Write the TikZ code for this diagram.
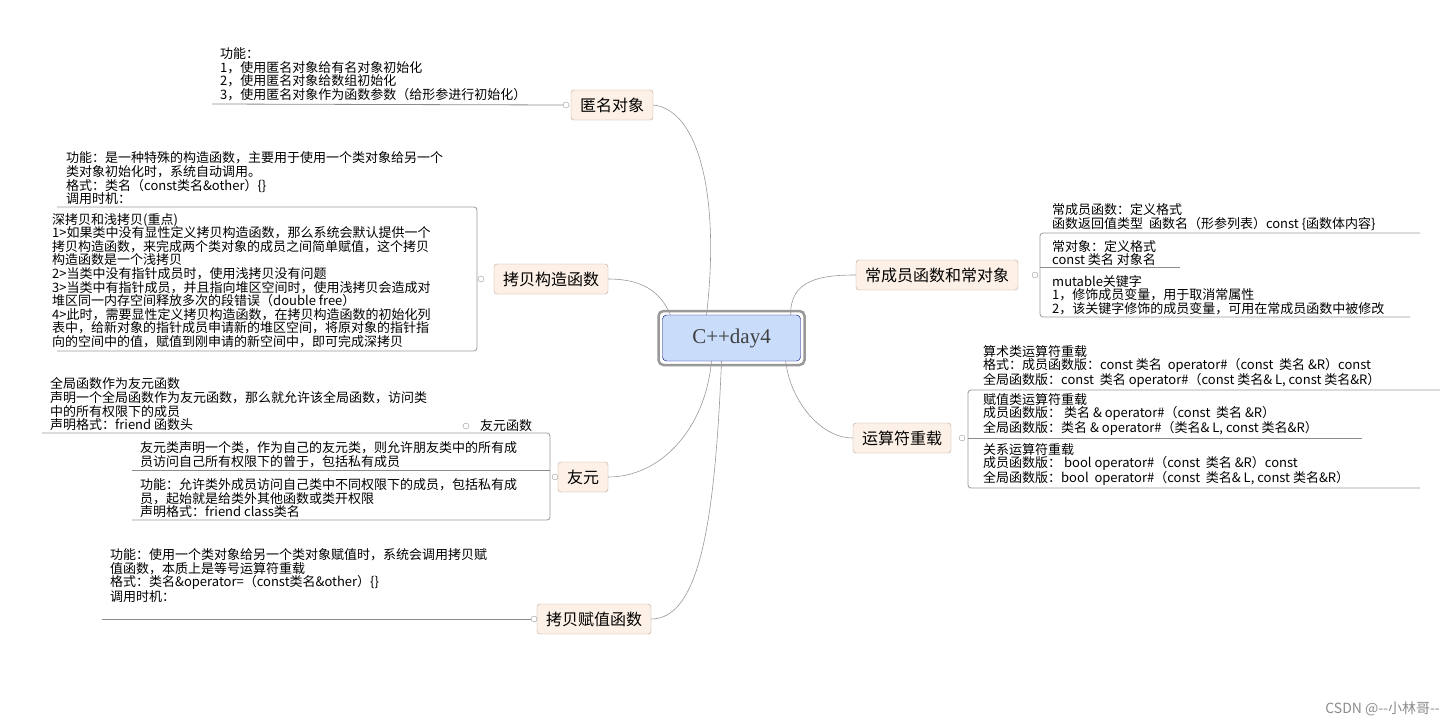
\documentclass[tikz,border=0pt]{standalone}
\usepackage{fontspec}
\setmainfont{Noto Sans CJK SC}
\newfontfamily\titlefont{Liberation Serif}
\definecolor{cfill}{RGB}{201,221,251}
\definecolor{tfill}{RGB}{253,240,230}
\definecolor{tdraw}{RGB}{190,165,150}
\begin{document}
\begin{tikzpicture}[x=1pt,y=-1pt,
  topic/.style={draw=tdraw,fill=tfill,rounded corners=3pt,minimum height=30pt,inner xsep=9pt,font=\fontsize{16}{18}\selectfont},
  txt/.style={anchor=south west,align=left,inner sep=0pt,font=\fontsize{13}{13.6}\selectfont},
  ln/.style={draw=black!45,line width=0.8pt},
  br/.style={draw=black!40,line width=0.8pt,rounded corners=3pt},
  con/.style={draw=black!40,line width=0.6pt},
  knob/.style={circle,draw=black!40,fill=white,inner sep=0pt,minimum size=6pt}]
\useasboundingbox (0,0) rectangle (1456,725);
\fill[white] (0,0) rectangle (1456,725);
% centre
\node[draw=black!40,line width=2.5pt,rounded corners=5pt,minimum width=146pt,minimum height=54pt] (cbox) at (731.5,338) {};
\node[draw=blue!50!black,fill=cfill,rounded corners=4pt,minimum width=138pt,minimum height=46pt,font=\titlefont\fontsize{21}{24}\selectfont,text=black!75] (c) at (731.5,338) {C++day4};
% topics
\node[topic] (t1) at (612,105) {匿名对象};
\node[topic] (t2) at (551,279) {拷贝构造函数};
\node[topic] (t3) at (583,477) {友元};
\node[topic] (t4) at (594,619) {拷贝赋值函数};
\node[topic] (t5) at (937,275) {常成员函数和常对象};
\node[topic] (t6) at (902,438) {运算符重载};
% connectors
\draw[con] (c.north) ++(-25,0) coordinate (a1) (a1) .. controls (720,200) and (700,110) .. (t1.east);
\draw[con] (c.north west) ++(8,0) coordinate (a2) (a2) .. controls (660,290) and (640,279) .. (t2.east);
\draw[con] (c.south) ++(-20,0) coordinate (a3) (a3) .. controls (705,430) and (660,477) .. (t3.east);
\draw[con] (c.south) ++(-10,0) coordinate (a4) (a4) .. controls (715,520) and (700,619) .. (t4.east);
\draw[con] (c.north east) ++(-10,0) coordinate (a5) (a5) .. controls (790,280) and (820,275) .. (t5.west);
\draw[con] (c.south east) ++(-15,0) coordinate (a6) (a6) .. controls (790,400) and (820,438) .. (t6.west);
% 匿名对象
\node[txt] (n1) at (220,101) {功能：\\1，使用匿名对象给有名对象初始化\\2，使用匿名对象给数组初始化\\3，使用匿名对象作为函数参数（给形参进行初始化）};
\node[knob] (k1) at (566,105) {};
\draw[ln] (212,104) -- (k1.west);
% 拷贝构造函数
\node[txt] (n2a) at (66,205) {功能：是一种特殊的构造函数，主要用于使用一个类对象给另一个\\类对象初始化时，系统自动调用。\\格式：类名（const类名\&other）\{\}\\调用时机：};
\node[txt] (n2b) at (52,348) {深拷贝和浅拷贝(重点)\\1>如果类中没有显性定义拷贝构造函数，那么系统会默认提供一个\\拷贝构造函数，来完成两个类对象的成员之间简单赋值，这个拷贝\\构造函数是一个浅拷贝\\2>当类中没有指针成员时，使用浅拷贝没有问题\\3>当类中有指针成员，并且指向堆区空间时，使用浅拷贝会造成对\\堆区同一内存空间释放多次的段错误（double free）\\4>此时，需要显性定义拷贝构造函数，在拷贝构造函数的初始化列\\表中，给新对象的指针成员申请新的堆区空间，将原对象的指针指\\向的空间中的值，赋值到刚申请的新空间中，即可完成深拷贝};
\draw[br] (57,207) -- (477,207) -- (477,351) -- (57,351);
\node[knob] (k2) at (481,279) {};
% 友元
\node[txt] (n3a) at (50,431) {全局函数作为友元函数\\声明一个全局函数作为友元函数，那么就允许该全局函数，访问类\\中的所有权限下的成员\\声明格式：friend 函数头};
\node[font=\fontsize{13}{13.6}\selectfont,inner sep=0pt,anchor=south west] (f1) at (480,432) {友元函数};
\node[knob] (kf) at (466,426) {};
\node[txt] (n3b) at (140,468) {友元类声明一个类，作为自己的友元类，则允许朋友类中的所有成\\员访问自己所有权限下的曾于，包括私有成员};
\node[txt] (n3c) at (140,518) {功能：允许类外成员访问自己类中不同权限下的成员，包括私有成\\员，起始就是给类外其他函数或类开权限\\声明格式：friend class类名};
\draw[br] (42,433) -- (550,433) -- (550,520) -- (132,520);
\draw[ln] (132,470) -- (550,470);
\node[knob] (k3) at (555,477) {};
% 拷贝赋值函数
\node[txt] (n4) at (110,603) {功能：使用一个类对象给另一个类对象赋值时，系统会调用拷贝赋\\值函数，本质上是等号运算符重载\\格式：类名\&operator=（const类名\&other）\{\}\\调用时机：};
\node[knob] (k4) at (534,619) {};
\draw[ln] (102,619) -- (k4.west);
% 常成员函数和常对象
\node[knob] (k5) at (1035,275) {};
\node[txt] (n5a) at (1052,231) {常成员函数：定义格式\\函数返回值类型\ \ 函数名（形参列表）const \{函数体内容\}};
\node[txt] (n5b) at (1052,266) {常对象：定义格式\\const 类名 对象名};
\node[txt] (n5c) at (1052,315) {mutable关键字\\1，修饰成员变量，用于取消常属性\\2，该关键字修饰的成员变量，可用在常成员函数中被修改};
\draw[br] (1420,233) -- (1040,233) -- (1040,317) -- (1410,317);
\draw[ln] (1040,267) -- (1180,267);
% 运算符重载
\node[knob] (k6) at (962,438) {};
\node[txt] (n6a) at (983,388) {算术类运算符重载\\格式：成员函数版：const 类名\ \ operator\#（const\ \ 类名 \&R）const\\全局函数版：const\ \ 类名 operator\#（const 类名\& L, const 类名\&R）};
\node[txt] (n6b) at (983,436) {赋值类运算符重载\\成员函数版：\ 类名 \& operator\#（const\ \ 类名 \&R）\\全局函数版：类名 \& operator\#（类名\& L, const 类名\&R）};
\node[txt] (n6c) at (983,486) {关系运算符重载\\成员函数版：\ bool operator\#（const\ \ 类名 \&R）const\\全局函数版：bool\ \ operator\#（const\ \ 类名\& L, const 类名\&R）};
\draw[br] (1440,390) -- (968,390) -- (968,488) -- (1420,488);
\draw[ln] (968,438) -- (1362,438);
% watermark
\node[anchor=south east,inner sep=0pt,text=black!45,font=\fontsize{14}{16}\selectfont] (wm) at (1440,716) {CSDN @-{}-小林哥-{}-};
\end{tikzpicture}
\end{document}
